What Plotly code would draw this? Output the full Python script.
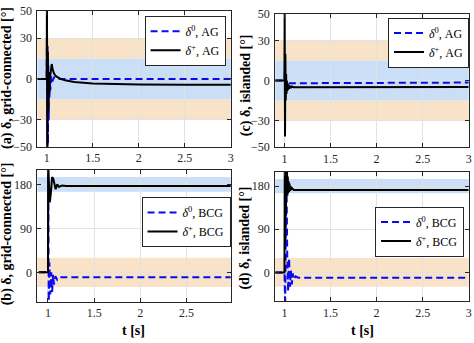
import plotly.graph_objects as go

# ---------------- data ----------------
# (a) grid-connected, AG fault
t_a_d0 = [0.9, 1.0, 1.003, 1.006, 1.01, 1.014, 1.018, 1.022, 1.026, 1.03, 1.035, 1.04, 1.05, 1.06, 1.08, 1.1, 3.0]
v_a_d0 = [0, 0, 30, -55, 25, -48, 10, -30, 5, -15, 3, -8, 2, -2, 1, 0, 0]
t_a_dp = [0.9, 1.0, 1.003, 1.008, 1.013, 1.018, 1.025, 1.03, 1.035, 1.045, 1.055, 1.065, 1.08, 1.1, 1.15, 1.2, 1.3, 1.5, 1.7, 2.0, 2.5, 3.0]
v_a_dp = [0, 0, 60, -60, 20, -25, 5, -10, 0, 5, 11, 7, 4, 2, 0, -1, -2.3, -3.3, -3.8, -4.1, -4.2, -4.2]

# (c) islanded, AG fault
t_c_d0 = [0.9, 1.0, 1.005, 1.01, 1.015, 1.02, 1.03, 1.04, 3.0]
v_c_d0 = [0, 0, 10, -8, 3, -4, -1, -2, -1.5]
t_c_dp = [0.9, 1.0, 1.002, 1.006, 1.01, 1.014, 1.018, 1.022, 1.026, 1.03, 1.035, 1.04, 1.045, 1.05, 1.06, 1.07, 1.08, 1.1, 3.0]
v_c_dp = [0, 0, 55, -42, 20, -15, 5, -10, 0, -8, -2, -7, -3, -6, -4, -5.5, -4.5, -5, -4.8]

# (b) grid-connected, BCG fault
t_b_d0 = [0.9, 1.0, 1.003, 1.008, 1.015, 1.025, 1.035, 1.045, 1.055, 1.065, 1.08, 1.1, 1.12, 2.98]
v_b_d0 = [0, 0, 230, -70, 20, -45, 0, -40, -5, -25, -8, -15, -10, -10]
t_b_dp = [0.9, 1.0, 1.002, 1.012, 1.02, 1.03, 1.045, 1.057, 1.07, 1.083, 1.1, 1.12, 1.15, 1.2, 2.98]
v_b_dp = [0, 0, 215, 160, 143, 160, 195, 192, 178, 170, 180, 175, 178, 177, 177]

# (d) islanded, BCG fault
t_d_d0 = [0.9, 1.0, 1.008, 1.015, 1.02, 1.03, 1.04, 1.05, 1.06, 1.07, 1.08, 1.09, 1.1, 1.12, 1.15, 3.0]
v_d_d0 = [0, 0, -70, 100, 230, 40, -40, 30, -30, 5, -25, -2, -15, -8, -11, -11]
t_d_dp = [0.9, 1.0, 1.003, 1.008, 1.012, 1.016, 1.02, 1.024, 1.028, 1.032, 1.036, 1.04, 1.045, 1.05, 1.055, 1.06, 1.065, 1.07, 1.08, 1.1, 3.0]
v_d_dp = [0, 0, 215, 60, 215, 120, 215, 150, 210, 160, 200, 165, 190, 168, 185, 170, 180, 172, 176, 172, 172]

# bands (degrees)
band_ag_blue = [-15, 15]
band_ag_orange = [[15, 30], [-30, -15]]
band_bcg_blue = [165, 195]
band_bcg_orange = [-30, 30]

# tick labels
xticks_top = [1, 1.5, 2, 2.5, 3]
xticks_b = [1, 1.5, 2, 2.5]
yticks_ag = [-50, -30, 0, 30, 50]
yticks_bcg = [0, 90, 180]

legend_text = {
    "d0_ag": "<i>δ</i><sup>0</sup>, AG", "dp_ag": "<i>δ</i><sup>+</sup>, AG",
    "d0_bcg": "<i>δ</i><sup>0</sup>, BCG", "dp_bcg": "<i>δ</i><sup>+</sup>, BCG",
}

# ---------------- figure ----------------
W, H = 474, 343
FONT = "Liberation Serif"
BLUE = "#0a0af0"
BLACK = "#000000"
C_BLUE_BAND = "#cadff6"
C_OR_BAND = "#f8e2c8"

fig = go.Figure()

def px_x(p):
    return p / W

def px_y(p):
    return 1 - p / H

panels = [
    ("a", "x", "y", (37.7, 232.3), (4.2, 145.8), [0.9, 3.0], [-50, 50], "legend"),
    ("c", "x2", "y2", (277.0, 471.7), (7.2, 146.2), [0.9, 3.0], [-50, 50], "legend2"),
    ("b", "x3", "y3", (37.7, 232.3), (169.7, 307.2), [0.886, 2.98], [-60, 210], "legend3"),
    ("d", "x4", "y4", (277.0, 471.7), (171.7, 306.7), [0.9, 3.0], [-60, 210], "legend4"),
]

series = {
    "a": (t_a_d0, v_a_d0, t_a_dp, v_a_dp, "ag"),
    "c": (t_c_d0, v_c_d0, t_c_dp, v_c_dp, "ag"),
    "b": (t_b_d0, v_b_d0, t_b_dp, v_b_dp, "bcg"),
    "d": (t_d_d0, v_d_d0, t_d_dp, v_d_dp, "bcg"),
}

axis_common = dict(
    showline=True, linecolor="#262626", linewidth=1, mirror="ticks",
    ticks="inside", ticklen=4, tickcolor="#262626",
    showgrid=True, gridcolor="#e2e2e2", gridwidth=1, zeroline=False,
    tickfont=dict(family=FONT, size=12, color="#262626"),
)

layout = {}
for name, xa, ya, xd, yd, xr, yr, lg in panels:
    xkey = "xaxis" + xa[1:]
    ykey = "yaxis" + ya[1:]
    xticks = xticks_b if name == "b" else xticks_top
    yticks = yticks_ag if name in ("a", "c") else yticks_bcg
    layout[xkey] = dict(axis_common, domain=[px_x(xd[0]), px_x(xd[1])], range=xr,
                        tickvals=xticks, ticktext=[f"{v:g}" for v in xticks], anchor=ya)
    layout[ykey] = dict(axis_common, domain=[px_y(yd[1]), px_y(yd[0])], range=yr,
                        tickvals=yticks, anchor=xa, ticklabelstandoff=2)
    t0, v0, tp, vp, kind = series[name]
    fig.add_trace(go.Scatter(x=t0, y=v0, mode="lines", xaxis=xa, yaxis=ya,
                             line=dict(color=BLUE, width=2, dash="7px,4px"),
                             name=legend_text["d0_" + kind], legend=lg))
    fig.add_trace(go.Scatter(x=tp, y=vp, mode="lines", xaxis=xa, yaxis=ya,
                             line=dict(color=BLACK, width=2),
                             name=legend_text["dp_" + kind], legend=lg))
    xref_dom = xa + " domain"
    if kind == "ag":
        for lo, hi in band_ag_orange:
            fig.add_shape(type="rect", xref=xref_dom, yref=ya, x0=0, x1=1, y0=lo, y1=hi,
                          fillcolor=C_OR_BAND, line_width=0, layer="below")
        fig.add_shape(type="rect", xref=xref_dom, yref=ya, x0=0, x1=1,
                      y0=band_ag_blue[0], y1=band_ag_blue[1],
                      fillcolor=C_BLUE_BAND, line_width=0, layer="below")
    else:
        fig.add_shape(type="rect", xref=xref_dom, yref=ya, x0=0, x1=1,
                      y0=band_bcg_orange[0], y1=band_bcg_orange[1],
                      fillcolor=C_OR_BAND, line_width=0, layer="below")
        fig.add_shape(type="rect", xref=xref_dom, yref=ya, x0=0, x1=1,
                      y0=band_bcg_blue[0], y1=band_bcg_blue[1],
                      fillcolor=C_BLUE_BAND, line_width=0, layer="below")

legend_common = dict(xanchor="right", yanchor="top", bgcolor="white",
                     bordercolor="#262626", borderwidth=1,
                     font=dict(family=FONT, size=12, color="#000000"),
                     tracegroupgap=0, itemwidth=30)
layout["legend"] = dict(legend_common, x=px_x(227), y=px_y(9))
layout["legend2"] = dict(legend_common, x=px_x(472), y=px_y(11))
layout["legend3"] = dict(legend_common, x=px_x(232), y=px_y(198))
layout["legend4"] = dict(legend_common, x=px_x(467), y=px_y(208))

ylabels = [
    ("(a) δ, grid-connected [°]", 7, 74),
    ("(c) δ, islanded [°]", 247, 81),
    ("(b) δ, grid-connected [°]", 7, 236),
    ("(d) δ, islanded [°]", 247, 241),
]
annotations = []
for txt, x, y in ylabels:
    annotations.append(dict(text=f"<b>{txt}</b>", x=px_x(x), y=px_y(y), xref="paper", yref="paper",
                            xanchor="center", yanchor="middle", textangle=-90, showarrow=False,
                            font=dict(family=FONT, size=14, color="#000000")))
for x in (134, 365):
    annotations.append(dict(text="<b>t [s]</b>", x=px_x(x), y=px_y(337), xref="paper", yref="paper",
                            xanchor="center", yanchor="middle", showarrow=False,
                            font=dict(family=FONT, size=14, color="#000000")))

fig.update_layout(
    width=W, height=H, margin=dict(l=0, r=0, t=0, b=0),
    paper_bgcolor="white", plot_bgcolor="white",
    showlegend=True, annotations=annotations, **layout,
)

fig.write_html("out.html")
